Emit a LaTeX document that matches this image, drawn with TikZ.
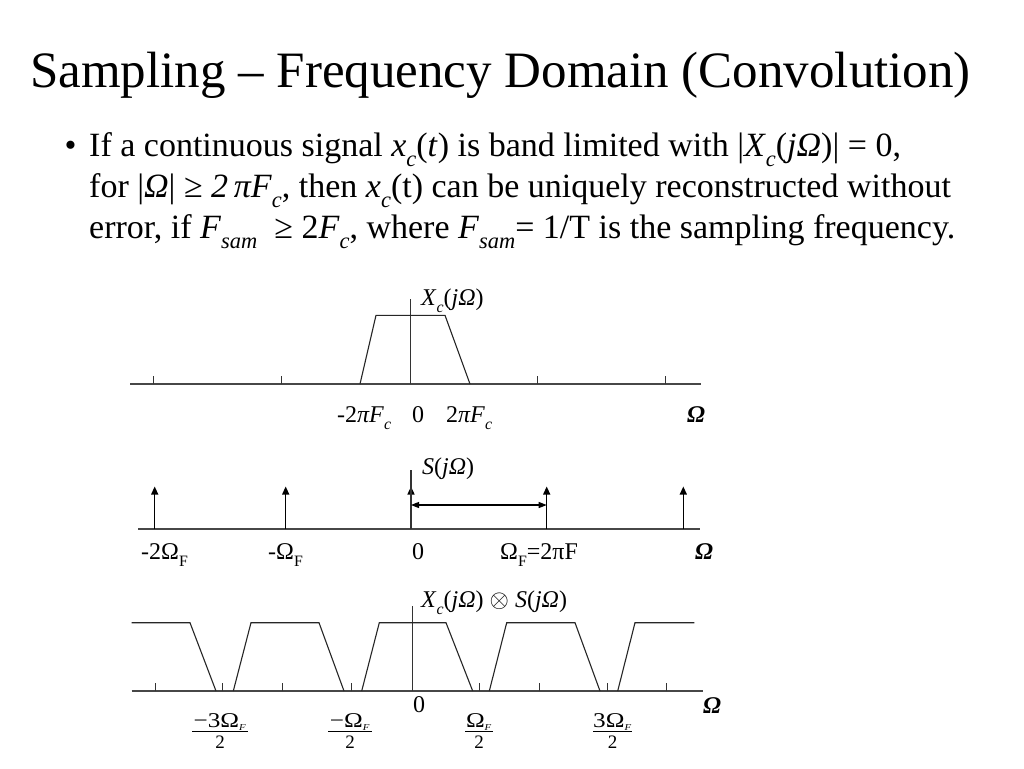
\documentclass[tikz,border=0pt]{standalone}
\usepackage{fontspec}
\usepackage{graphicx}
\setmainfont{Liberation Serif}
\usetikzlibrary{arrows.meta}
\newcommand{\fsz}[1]{\fontsize{#1}{#1}\selectfont}
\newcommand{\sbx}[1]{\raisebox{-0.3em}{\scalebox{0.66}{#1}}}
\newcommand{\sbc}[1]{\sbx{\textit{#1}}}
\begin{document}
\begin{tikzpicture}[x=1pt,y=-1pt,
  axisline/.style={draw=black!72,line width=1.5pt},
  curveline/.style={draw=black!85,line width=1.1pt},
  tickline/.style={draw=black!80,line width=1pt},
  impulse/.style={draw=black,line width=1.3pt,-{Triangle[width=7pt,length=8pt]}},
  spanarrow/.style={draw=black,line width=1.1pt,{Triangle[width=6pt,length=8pt]}-{Triangle[width=6pt,length=8pt]}},
  lbl/.style={inner sep=0pt,anchor=base west,font=\fsz{24}},
  omg/.style={inner sep=0pt,anchor=base west,font=\fsz{24}\bfseries\itshape},
  bodyline/.style={inner sep=0pt,anchor=base west,font=\fsz{34}},
  num/.style={inner sep=0pt,anchor=base,font=\fsz{21}},
  den/.style={inner sep=0pt,anchor=base,font=\fsz{19}}]
\path[use as bounding box,fill=white] (0,0) rectangle (1024,768);

% Title and text
\node[inner sep=0pt,anchor=base west,font=\fsz{51}] (title) at (30,87) {Sampling – Frequency Domain (Convolution)};
\node[inner sep=0pt,font=\fsz{34}] (bullet) at (70.7,149.3) {•};
\node[bodyline] (l1) at (89,156) {If a continuous signal \textit{x}\sbc{c}(\textit{t}) is band limited with |\textit{X}\sbc{c}(\textit{jΩ})| = 0,};
\node[bodyline] (l2) at (89,197.3) {for |\textit{Ω}| ≥ \textit{2\,πF}\sbc{c}, then \textit{x}\sbc{c}(t) can be uniquely reconstructed without};
\node[bodyline] (l3) at (89,238.3) {error, if \textit{F}\sbc{sam}\ \ ≥ 2\textit{F}\sbc{c}, where \textit{F}\sbc{sam}= 1/T is the sampling frequency.};

% ---------- Top plot: Xc(jOmega)
\coordinate (a1l) at (130,384); \coordinate (a1r) at (701,384);
\draw[axisline] (a1l) -- (a1r);
\foreach \x in {153.3,281.3,537.3,665} \draw[tickline] (\x,384) -- (\x,376);
\coordinate (v1b) at (410.7,384); \coordinate (v1t) at (410.7,299);
\draw[tickline,line width=1.1pt] (v1b) -- (v1t);
\draw[curveline] (360,384) -- (376,315.3) -- (445,315.3) -- (470,384);
\node[lbl] (xc) at (421,305) {\textit{X}\sbc{c}(\textit{jΩ})};
\node[lbl] (t1) at (337,422) {-2\textit{πF}\sbc{c}};
\node[lbl] (t2) at (412,422) {0};
\node[lbl] (t3) at (446,422) {2\textit{πF}\sbc{c}};
\node[omg] (t4) at (687,422) {Ω};

% ---------- Middle plot: S(jOmega)
\coordinate (a2l) at (138,529); \coordinate (a2r) at (700,529);
\draw[axisline] (a2l) -- (a2r);
\foreach \x [count=\i] in {154.7,285.7,411,546.7,683.3} {
  \coordinate (ib\i) at (\x,529); \coordinate (it\i) at (\x,486.5);
  \draw[impulse] (ib\i) -- (it\i);
}
\coordinate (v2t) at (411,470);
\draw[tickline,line width=1.1pt] (ib3) -- (v2t);
\coordinate (sp1) at (411,505); \coordinate (sp2) at (546.7,505);
\draw[spanarrow] (sp1) -- (sp2);
\node[lbl] (sj) at (422,474) {\textit{S}(\textit{jΩ})};
\node[lbl] (m1) at (141,559) {-2Ω\sbx{F}};
\node[lbl] (m2) at (268,559) {-Ω\sbx{F}};
\node[lbl] (m3) at (412,559) {0};
\node[lbl] (m4) at (500,559) {Ω\sbx{F}=2πF};
\node[omg] (m5) at (695,559) {Ω};

% ---------- Bottom plot: convolution
\coordinate (a3l) at (131.7,691); \coordinate (a3r) at (702.7,691);
\draw[axisline] (a3l) -- (a3r);
\foreach \x in {155,222.7,282.7,351,479,539,607.3,666.7} \draw[tickline] (\x,691) -- (\x,683);
\coordinate (v3b) at (412.7,691); \coordinate (v3t) at (412.7,606);
\draw[tickline,line width=1.1pt] (v3b) -- (v3t);
\draw[curveline] (131.7,622.7) -- (190,622.7) -- (216,691);
\draw[curveline] (233.3,691) -- (251,622.7) -- (319,622.7) -- (344,691);
\draw[curveline] (361.7,691) -- (379.3,622.7) -- (446,622.7) -- (472.7,691);
\draw[curveline] (489.3,691) -- (506.7,622.7) -- (575,622.7) -- (600,691);
\draw[curveline] (617.7,691) -- (635,622.7) -- (694.3,622.7);
\node[lbl] (conv) at (421,607) {\textit{X}\sbc{c}(\textit{jΩ}) $\otimes$ \textit{S}(\textit{jΩ})};
\node[lbl] (b0) at (413,712) {0};
\node[omg] (bo) at (703,713) {Ω};

% fractions
\foreach \cx/\w/\nm [count=\k] in {220/56/{−3Ω},350/44/{−Ω},479/28/{Ω},612.5/39/{3Ω}} {
  \node[num] (fn\k) at (\cx,727) {\scalebox{1.2}[1]{\nm\textsubscript{\fsz{9}\textit{F}}}};
  \coordinate (fl\k) at ({\cx-\w/2},731); \coordinate (fr\k) at ({\cx+\w/2},731);
  \draw[black,line width=0.9pt] (fl\k) -- (fr\k);
  \node[den] (fd\k) at (\cx,748) {2};
}
\end{tikzpicture}
\end{document}
